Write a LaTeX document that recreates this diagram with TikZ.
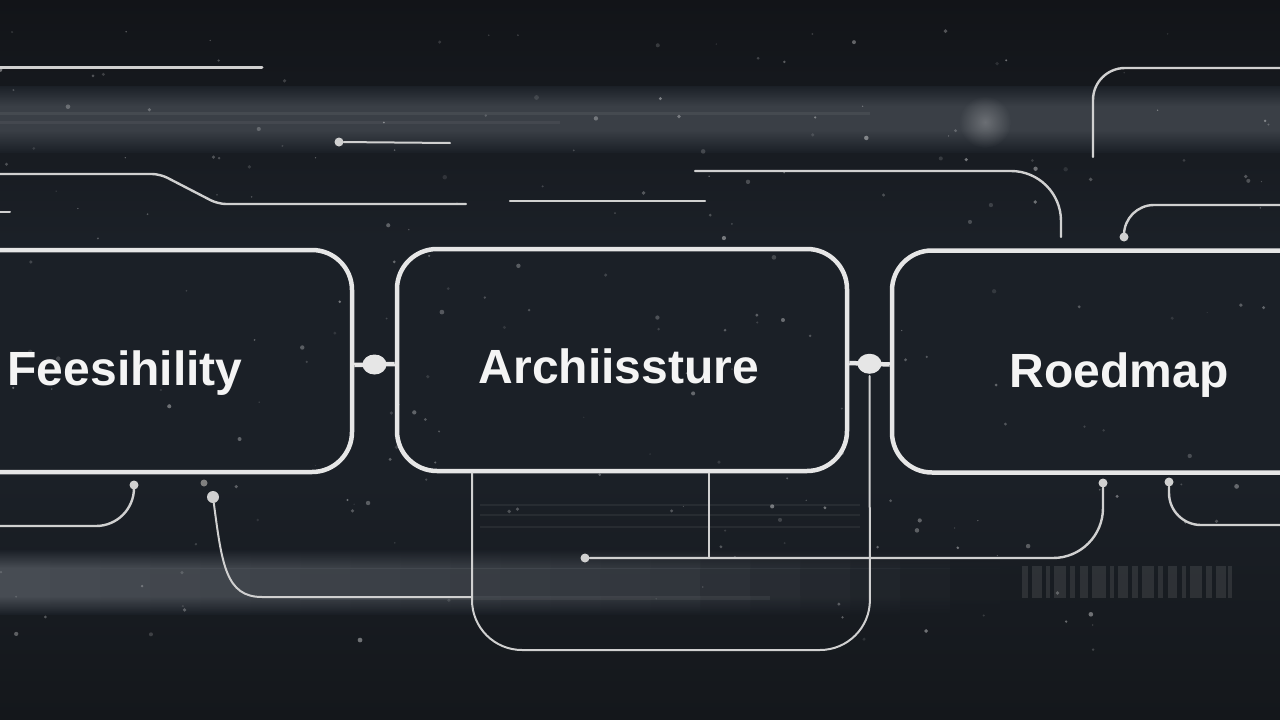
\documentclass[tikz,border=0pt]{standalone}
\usepackage{fontspec}
\setmainfont{Liberation Sans}
\usetikzlibrary{calc,shapes.geometric,fadings}
\definecolor{bgtop}{HTML}{121418}
\definecolor{bgmid}{HTML}{1B2027}
\definecolor{bgbot}{HTML}{14171B}
\definecolor{band}{HTML}{3A3F46}
\definecolor{bandhi}{HTML}{474C53}
\definecolor{boxline}{HTML}{E6E6E6}
\definecolor{wire}{HTML}{D0D0D0}
\definecolor{txt}{HTML}{F4F4F4}
\tikzfading[name=glowfade, inner color=transparent!0, outer color=transparent!100]
\begin{document}
\begin{tikzpicture}[x=1pt,y=-1pt,
  stagebox/.style={draw=boxline, line width=4.5pt, rounded corners=40pt, minimum height=222pt, inner sep=0pt},
  stagelabel/.style={text=txt, font=\bfseries\fontsize{48}{48}\selectfont, anchor=base},
  wireline/.style={draw=wire, line width=2.4pt, line cap=round},
  joint/.style={draw=boxline, line width=4.5pt},
  blob/.style={ellipse, fill=boxline, minimum width=24pt, minimum height=20pt, inner sep=0pt},
  dotmark/.style={circle, fill=wire, minimum size=9pt, inner sep=0pt}]
\useasboundingbox (0,0) rectangle (1280,720);
\clip (0,0) rectangle (1280,720);
% background
\fill[bgmid] (0,0) rectangle (1280,720);
\shade[top color=bgtop, bottom color=bgmid] (0,0) rectangle (1280,240);
\shade[top color=bgmid, bottom color=bgbot] (0,480) rectangle (1280,720);
% top band (soft)
\shade[top color=bgmid, bottom color=band] (0,86) rectangle (1280,106);
\fill[band] (0,106) rectangle (1280,130);
\shade[top color=band, bottom color=bgmid] (0,130) rectangle (1280,152);
\fill[white, opacity=0.25, path fading=glowfade] (985,122) circle (26);
\fill[white, opacity=0.06] (0,112) rectangle (870,115);
\fill[white, opacity=0.05] (0,121) rectangle (560,124);
% bottom band (soft, fading to the right)
\foreach \i in {0,...,19}{
  \pgfmathsetmacro\o{\i<14 ? 1-\i*0.035 : 0.51-(\i-13)*0.08}
  \begin{scope}[opacity=\o]
    \shade[top color=bgmid, bottom color=bandhi] (\i*50,550) rectangle (\i*50+50,568);
    \fill[bandhi] (\i*50,568) rectangle (\i*50+50,596);
    \shade[top color=bandhi, bottom color=bgmid] (\i*50,596) rectangle (\i*50+50,614);
  \end{scope}
}
\fill[white, opacity=0.06] (300,596) rectangle (770,600);
% barcode texture
\foreach \bx/\bw in {1022/6,1032/10,1046/4,1054/12,1070/5,1080/8,1092/14,1110/4,1118/10,1132/6,1142/12,1158/5,1168/9,1182/4,1190/12,1206/6,1216/10,1228/4}{
  \fill[gray, opacity=0.22] (\bx,566) rectangle (\bx+\bw,598);
}
% speckles
\pgfmathsetseed{11}
\foreach \i in {1,...,220}{
  \pgfmathsetmacro\sx{rnd*1280}
  \pgfmathsetmacro\sy{30+rnd*620}
  \pgfmathsetmacro\sr{0.6+rnd*1.8}
  \pgfmathsetmacro\so{0.1+rnd*0.3}
  \fill[white, opacity=\so] (\sx,\sy) circle (\sr);
}
% horizontal faint streaks
\foreach \sy in {505,515,527}{
  \draw[white, opacity=0.06, line width=1.5pt] (480,\sy) -- (860,\sy);
}
% stage boxes
\node[stagebox, minimum width=420pt] (feas) at (142,361) {};
\node[stagebox, minimum width=450pt] (arch) at (622,360) {};
\node[stagebox, minimum width=430pt] (road) at (1107,361.5) {};
% labels
\node[stagelabel] (feasT) at (125,385) {Feesihility};
\node[stagelabel] (archT) at (619,383) {Archiissture};
\node[stagelabel] (roadT) at (1119,387) {Roedmap};
% joints between boxes
\draw[joint] ([yshift=-4pt]feas.east) -- node[blob] (j12) {} ([yshift=-4pt]arch.west);
\draw[joint] ([yshift=-3pt]arch.east) -- node[blob] (j23) {} ([yshift=-3pt]road.west);
% frame under Architecture
\draw[wireline, line width=2pt, rounded corners=50pt] (arch.south -| 472,0) -- (472,650) -- (870,650) -- (j23.south);
% dots
\node[dotmark] (d1) at (585,558) {};
\node[dotmark] (d2) at (1103,483) {};
\node[dotmark] (d3) at (339,142) {};
\node[dotmark] (d4) at (1124,237) {};
\node[dotmark] (d5) at (134,485) {};
\node[dotmark, minimum size=12pt] (d6) at (213,497) {};
\node[dotmark, minimum size=7pt, fill=gray] (d6b) at (204,483) {};
\node[dotmark] (d7) at (1169,482) {};
% wires
\draw[wireline, rounded corners=50pt] (d1) -- (1103,558) -- (d2);
\draw[wireline, line width=1.6pt] (arch.south -| 709,0) -- (709,558);
\draw[wireline, line width=3pt] (0,67) -- (262,67);
\draw[wireline, line width=2pt] (d3) -- (450,143);
\draw[wireline, rounded corners=8pt] (0,174) -- (160,174) -- (218,204) -- (466,204);
\draw[wireline] (510,201) -- (705,201);
\draw[wireline, line width=2pt] (0,212) -- (10,212);
\draw[wireline, rounded corners=50pt] (695,171) -- (1061,171) -- (1061,237);
\draw[wireline, rounded corners=32pt] (1093,157) -- (1093,68) -- (1290,68);
\draw[wireline, rounded corners=30pt] (d4) -- (1124,205) -- (1290,205);
\draw[wireline, rounded corners=38pt] (d5) -- (134,526) -- (-10,526);
\draw[wireline, line width=2pt] (d6) .. controls (222,565) and (226,597) .. (262,597) -- (472,597);
\draw[wireline, rounded corners=32pt] (d7) -- (1169,525) -- (1290,525);
\end{tikzpicture}
\end{document}
